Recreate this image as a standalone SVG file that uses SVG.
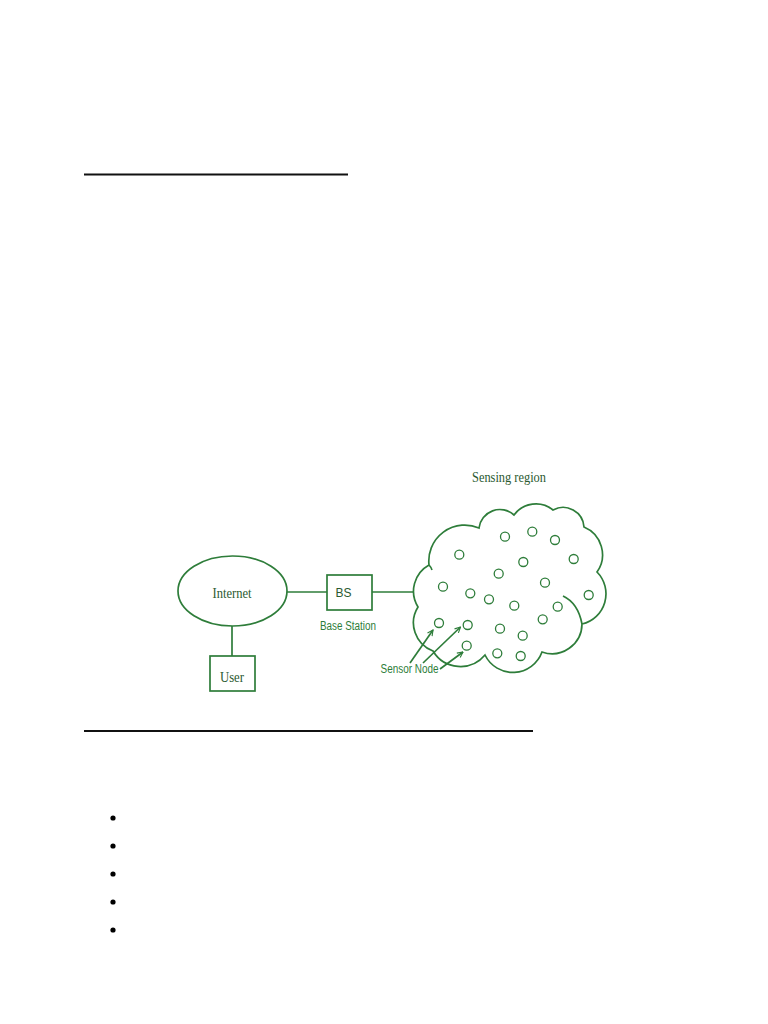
<svg xmlns="http://www.w3.org/2000/svg" width="768" height="1024" viewBox="0 0 768 1024">
<style>
.g{fill:none;stroke:#2e7d3a;stroke-width:1.7}
.s{fill:none;stroke:#2e7d3a;stroke-width:1.3}
.serif{font-family:"Liberation Serif","Times New Roman",serif;fill:#2a5a30;font-size:15px;text-anchor:middle}
.sans{font-family:"Liberation Sans",Arial,sans-serif;fill:#2e7d3a;font-size:12px;text-anchor:middle}
.rule{stroke:#111;stroke-width:2.2}
</style>
<defs>
<marker id="ah" viewBox="0 0 10 10" refX="9" refY="5" markerWidth="7" markerHeight="7" orient="auto" markerUnits="userSpaceOnUse">
<path d="M1,1 L9,5 L1,9" fill="none" stroke="#2e7d3a" stroke-width="1.6"/>
</marker>
</defs>
<rect width="768" height="1024" fill="#fff"/>
<line class="rule" x1="84" y1="174.5" x2="348" y2="174.5"/>
<line class="rule" x1="84" y1="731" x2="533" y2="731"/>
<g id="bullets" fill="#000">
<circle cx="113" cy="818" r="2.6"/>
<circle cx="113" cy="846" r="2.6"/>
<circle cx="113" cy="874" r="2.6"/>
<circle cx="113" cy="902" r="2.6"/>
<circle cx="113" cy="930" r="2.6"/>
</g>
<g id="connectors">
<line class="g" x1="287" y1="592" x2="327" y2="592"/>
<line class="g" x1="372" y1="592" x2="414" y2="592"/>
<line class="g" x1="232" y1="626" x2="232" y2="656"/>
<line class="g" x1="410" y1="663" x2="433" y2="630" marker-end="url(#ah)"/>
<line class="g" x1="423" y1="663" x2="460.5" y2="627" marker-end="url(#ah)"/>
<line class="g" x1="440" y1="669" x2="463" y2="652" marker-end="url(#ah)"/>
</g>
<g id="internet">
<ellipse class="g" cx="232.5" cy="591" rx="54.5" ry="35"/>
<text class="serif" x="232" y="598" textLength="39" lengthAdjust="spacingAndGlyphs">Internet</text>
</g>
<g id="user">
<rect class="g" x="210" y="656" width="45" height="35"/>
<text class="serif" x="232" y="682" textLength="24" lengthAdjust="spacingAndGlyphs">User</text>
</g>
<g id="bs">
<rect class="g" x="327" y="575" width="45" height="35"/>
<text class="sans" x="343.5" y="597" style="fill:#2a5a30">BS</text>
<text class="sans" x="348" y="629.5" textLength="56" lengthAdjust="spacingAndGlyphs" font-size="12.5">Base Station</text>
</g>
<g id="sensing-region">
<text class="serif" x="509" y="482" textLength="74" lengthAdjust="spacingAndGlyphs">Sensing region</text>
<path class="g" d="M418,607 A30,30 0 0,1 429,565 A36,36 0 0,1 479,528 A21,21 0 0,1 514,515 A27,27 0 0,1 553,510 A21,21 0 0,1 584,527 A30,30 0 0,1 597,572 A31,31 0 0,1 582,624 A30,30 0 0,1 542,652 A31,31 0 0,1 485,655 A32,32 0 0,1 433,651 A30,30 0 0,1 418,607 Z"/>
<path class="g" d="M582,624 Q578,603 563,596"/>
<path class="g" d="M429,565 Q431,567 432,570"/>
<g class="s">
<circle cx="459.3" cy="554.7" r="4.5"/>
<circle cx="505" cy="536.7" r="4.5"/>
<circle cx="532.3" cy="531.7" r="4.5"/>
<circle cx="555" cy="540" r="4.5"/>
<circle cx="573.7" cy="559" r="4.5"/>
<circle cx="523.3" cy="562" r="4.5"/>
<circle cx="498.7" cy="573.7" r="4.5"/>
<circle cx="545" cy="582.7" r="4.5"/>
<circle cx="443" cy="586.7" r="4.5"/>
<circle cx="470.3" cy="593.3" r="4.5"/>
<circle cx="489" cy="599.3" r="4.5"/>
<circle cx="514.3" cy="605.7" r="4.5"/>
<circle cx="588.7" cy="595" r="4.5"/>
<circle cx="557.7" cy="606.7" r="4.5"/>
<circle cx="542.7" cy="619.3" r="4.5"/>
<circle cx="439" cy="623" r="4.5"/>
<circle cx="467.7" cy="625" r="4.5"/>
<circle cx="500" cy="628.7" r="4.5"/>
<circle cx="522.7" cy="635.7" r="4.5"/>
<circle cx="466.7" cy="645.7" r="4.5"/>
<circle cx="497.3" cy="653.3" r="4.5"/>
<circle cx="520.7" cy="656" r="4.5"/>
</g>
</g>
<g id="sensor-node-label">
<text class="sans" x="409.5" y="672.5" textLength="58" lengthAdjust="spacingAndGlyphs">Sensor Node</text>
</g>
</svg>
